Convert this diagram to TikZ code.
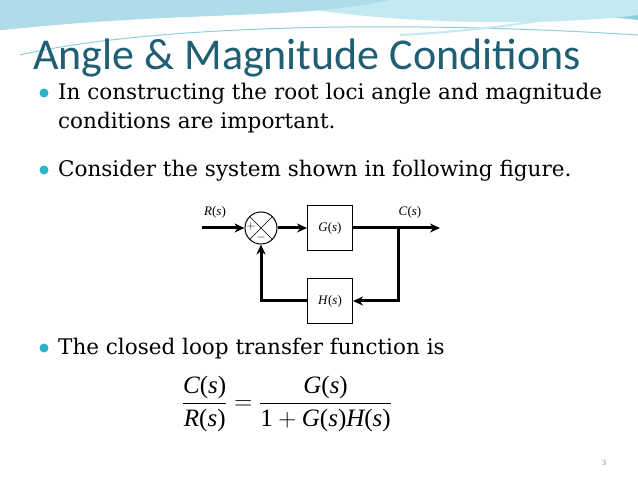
\documentclass[tikz,border=0pt]{standalone}
\usepackage{fontspec}
\setmainfont{Liberation Serif}
\newfontfamily\titlefont{Carlito}
\newfontfamily\bodyfont{DejaVu Serif}
\usetikzlibrary{arrows.meta}
\definecolor{ttl}{HTML}{1F5E73}
\definecolor{bul}{HTML}{2BB3C9}
\definecolor{sw1}{HTML}{8CCFE0}
\definecolor{sw2}{HTML}{C4E9F1}
\newcommand\fnc[2]{\textit{#1}\textup{(}\textit{#2}\textup{)}}
\begin{document}
\begin{tikzpicture}[x=1pt,y=-1pt,
  blk/.style={draw,line width=1pt,minimum width=45pt,minimum height=45pt,font=\fontsize{13}{15}\selectfont},
  sig/.style={line width=3pt,-{Stealth[length=10pt,width=9pt]}},
  btxt/.style={anchor=base west,font=\bodyfont\fontsize{21.5}{24}\selectfont,inner sep=0},
  dot/.style={circle,fill=bul,inner sep=0,minimum size=9pt}]
\useasboundingbox (0,0) rectangle (638,478);
\fill[white] (0,0) rectangle (638,478);
% swooshes
\fill[sw1] (0,0) -- (638,0) -- (638,20) .. controls (500,5) and (350,-5) .. (0,30) -- cycle;
\fill[sw2] (200,0) -- (638,0) -- (638,15) .. controls (560,25) and (430,25) .. (330,12) .. controls (280,5) and (230,2) .. (200,0) -- cycle;
\fill[sw1!70] (0,30) .. controls (200,10) and (300,20) .. (390,0) -- (0,0) -- cycle;
\draw[sw1,line width=1pt] (20,55) .. controls (150,25) and (400,20) .. (638,35);
\draw[sw2,line width=2pt] (400,35) .. controls (500,30) and (580,15) .. (638,3);
% title
\node[anchor=base west,inner sep=0,text=ttl,font=\titlefont\fontsize{44}{46}\selectfont] (title) at (33,70) {Angle \& Magnitude Conditions};
% bullets
\node[dot] (d1) at (44,93) {};
\node[btxt] (t1) at (58,100) {In constructing the root loci angle and magnitude};
\node[btxt] (t1b) at (58,129) {conditions are important.};
\node[dot] (d2) at (44,170) {};
\node[btxt] (t2) at (58,177) {Consider the system shown in following figure.};
\node[dot] (d3) at (44,348) {};
\node[btxt] (t3) at (58,355) {The closed loop transfer function is};
% block diagram
\fill[white] (195,200) rectangle (443,327);
\node[blk] (G) at (330,228) {\fnc{G}{s}};
\node[blk] (H) at (330,301) {\fnc{H}{s}};
\node[draw,circle,line width=1pt,minimum size=32pt,inner sep=0] (S) at (261,228) {};
\draw[line width=0.6pt] (S.45) -- (S.225) (S.135) -- (S.315);
\node[font=\fontsize{12}{14}\selectfont,inner sep=0] (pl) at (251,227) {$+$};
\node[font=\fontsize{12}{14}\selectfont,inner sep=0] (mn) at (261,238) {$-$};
\coordinate (in) at (202,228);
\coordinate (out) at (440,228);
\coordinate (br) at (398,228);
\coordinate (brd) at (398,301);
\coordinate (hl) at (261,301);
\draw[sig] (in) -- (S.west);
\draw[sig] (S.east) -- (G.west);
\draw[sig] (G.east) -- (out);
\draw[sig] (br) -- (brd) -- (H.east);
\draw[sig] (H.west) -- (hl) -- (S.south);
\node[font=\fontsize{13}{15}\selectfont] (R) at (215,212) {\fnc{R}{s}};
\node[font=\fontsize{13}{15}\selectfont] (C) at (410,212) {\fnc{C}{s}};
% equation
\node[font=\fontsize{25}{30}\selectfont] (eq) at (287,404) {$\displaystyle \frac{\fnc{C}{s}}{\fnc{R}{s}} = \frac{\fnc{G}{s}}{\textup{1}+\fnc{G}{s}\fnc{H}{s}}$};
\node[font=\footnotesize,text=ttl!70] (pg) at (604,463) {3};
\end{tikzpicture}
\end{document}
